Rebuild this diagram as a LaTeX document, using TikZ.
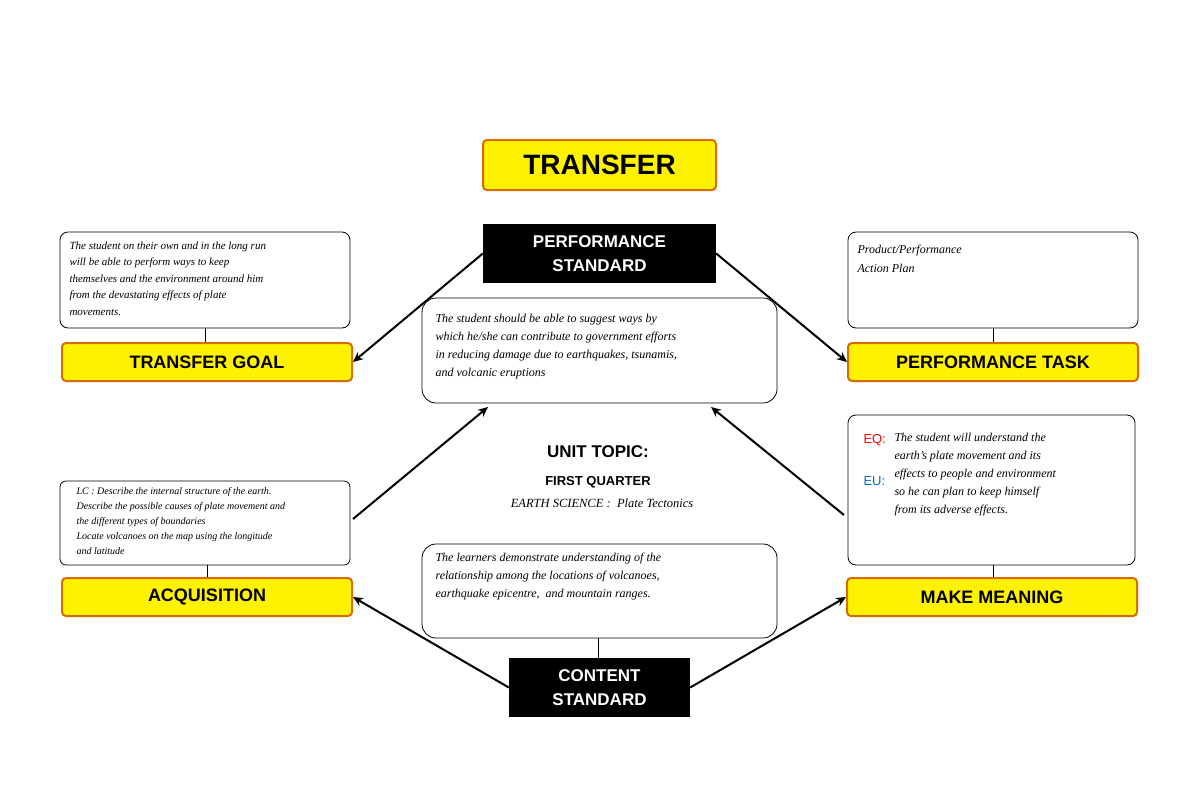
\documentclass[tikz,border=0pt]{standalone}
\usepackage{fontspec}
\setmainfont{Liberation Serif}
\setsansfont{Liberation Sans}
\usetikzlibrary{arrows.meta}
\begin{document}
\begin{tikzpicture}[x=1pt,y=-1pt,
 ybox/.style={draw=orange!85!black,line width=2pt,fill=yellow,rounded corners=4pt,font=\sffamily\bfseries\fontsize{18}{20}\selectfont},
 kbox/.style={fill=black,text=white,font=\sffamily\bfseries\fontsize{17}{24}\selectfont,align=center},
 tbox/.style={draw,rounded corners=8pt,line width=0.8pt},
 itx/.style={anchor=north west,align=left,font=\itshape\fontsize{12}{18}\selectfont},
 arr/.style={line width=2pt,-{Stealth[length=10pt,width=9pt]}}]
\useasboundingbox (0,0) rectangle (1200,785);
% top
\node[ybox,minimum width=233pt,minimum height=50pt,font=\sffamily\bfseries\fontsize{28}{30}\selectfont] (tr) at (599.5,165) {TRANSFER};
\node[kbox,minimum width=233pt,minimum height=59pt] (ps) at (599.5,253.5) {PERFORMANCE\\STANDARD};
% left top
\draw[tbox] (60,232) rectangle (350,328);
\node[itx,font=\itshape\fontsize{11}{16.5}\selectfont] (tgt) at (66,238) {The student on their own and in the long run\\will be able to perform ways to keep\\themselves and the environment around him\\from the devastating effects of plate\\movements.};
\coordinate (tgb) at (205,328);
\node[ybox,minimum width=290pt,minimum height=38pt] (tg) at (207,362) {TRANSFER GOAL};
\draw[line width=1pt] (tgb) -- (tg.north -| tgb);
% right top
\draw[tbox] (848,232) rectangle (1138,328);
\node[itx] (ptt) at (854,242) {Product/Performance\\[0pt]\\[-17pt]Action Plan};
\coordinate (ptb) at (993,328);
\node[ybox,minimum width=290pt,minimum height=38pt] (pt) at (993,362) {PERFORMANCE TASK};
\draw[line width=1pt] (ptb) -- (pt.north -| ptb);
% center top text
\draw[tbox,rounded corners=14pt] (422,298) rectangle (777,403);
\node[itx] (pst) at (432,311) {The student should be able to suggest ways by\\which he/she can contribute to government efforts\\in reducing damage due to earthquakes, tsunamis,\\and volcanic eruptions};
% unit topic
\node[font=\sffamily\bfseries\fontsize{17}{20}\selectfont] (ut) at (598,452) {UNIT TOPIC:};
\node[font=\sffamily\bfseries\fontsize{13}{15}\selectfont] (fq) at (598,482) {FIRST QUARTER};
\node[font=\itshape\fontsize{12.5}{15}\selectfont] (es) at (602,503) {EARTH SCIENCE :\ \ Plate Tectonics};
% left bottom
\draw[tbox,rounded corners=6pt] (60,481) rectangle (350,565);
\node[itx,font=\itshape\fontsize{10}{15}\selectfont] (lct) at (73,484) {LC : Describe the internal structure of the earth.\\Describe the possible causes of plate movement and\\the different types of boundaries\\Locate volcanoes on the map using the longitude\\and latitude};
\coordinate (acb) at (207,565);
\node[ybox,minimum width=290pt,minimum height=38pt] (ac) at (207,597) {ACQUISITION};
\draw[line width=1pt] (acb) -- (ac.north -| acb);
% right bottom
\draw[tbox] (848,415) rectangle (1135,565);
\node[anchor=west,text=red,font=\sffamily\fontsize{13}{15}\selectfont] (eq) at (860,440) {EQ:};
\node[anchor=west,text={rgb,255:red,0;green,112;blue,192},font=\sffamily\fontsize{13}{15}\selectfont] (eu) at (860,481) {EU:};
\node[itx] (eqt) at (891,430) {The student will understand the\\earth's plate movement and its\\effects to people and environment\\so he can plan to keep himself\\from its adverse effects.};
\coordinate (mmb) at (993,565);
\node[ybox,minimum width=290pt,minimum height=38pt] (mm) at (992,597) {MAKE MEANING};
\draw[line width=1pt] (mmb) -- (mm.north -| mmb);
% content
\draw[tbox,rounded corners=14pt] (422,544) rectangle (777,638);
\node[itx] (cst) at (432,550) {The learners demonstrate understanding of the\\relationship among the locations of volcanoes,\\earthquake epicentre,\ \ and mountain ranges.};
\node[kbox,minimum width=181pt,minimum height=59pt] (cs) at (599.5,687.5) {CONTENT\\STANDARD};
\coordinate (ctb) at (598,638);
\draw[line width=1pt] (ctb) -- (cs.north -| ctb);
% arrows
\coordinate (a1) at (488,407);
\coordinate (a2) at (711,407);
\draw[arr] (ps.west) -- (tg.east);
\draw[arr] (ps.east) -- (pt.west);
\draw[arr] (ac.north east) ++(0,-58) coordinate (ae) (ae) -- (a1);
\draw[arr] (mm.north west) ++(-2,-62) coordinate (me) (me) -- (a2);
\draw[arr] (cs.west) -- (ac.east);
\draw[arr] (cs.east) -- (mm.west);
\end{tikzpicture}
\end{document}
